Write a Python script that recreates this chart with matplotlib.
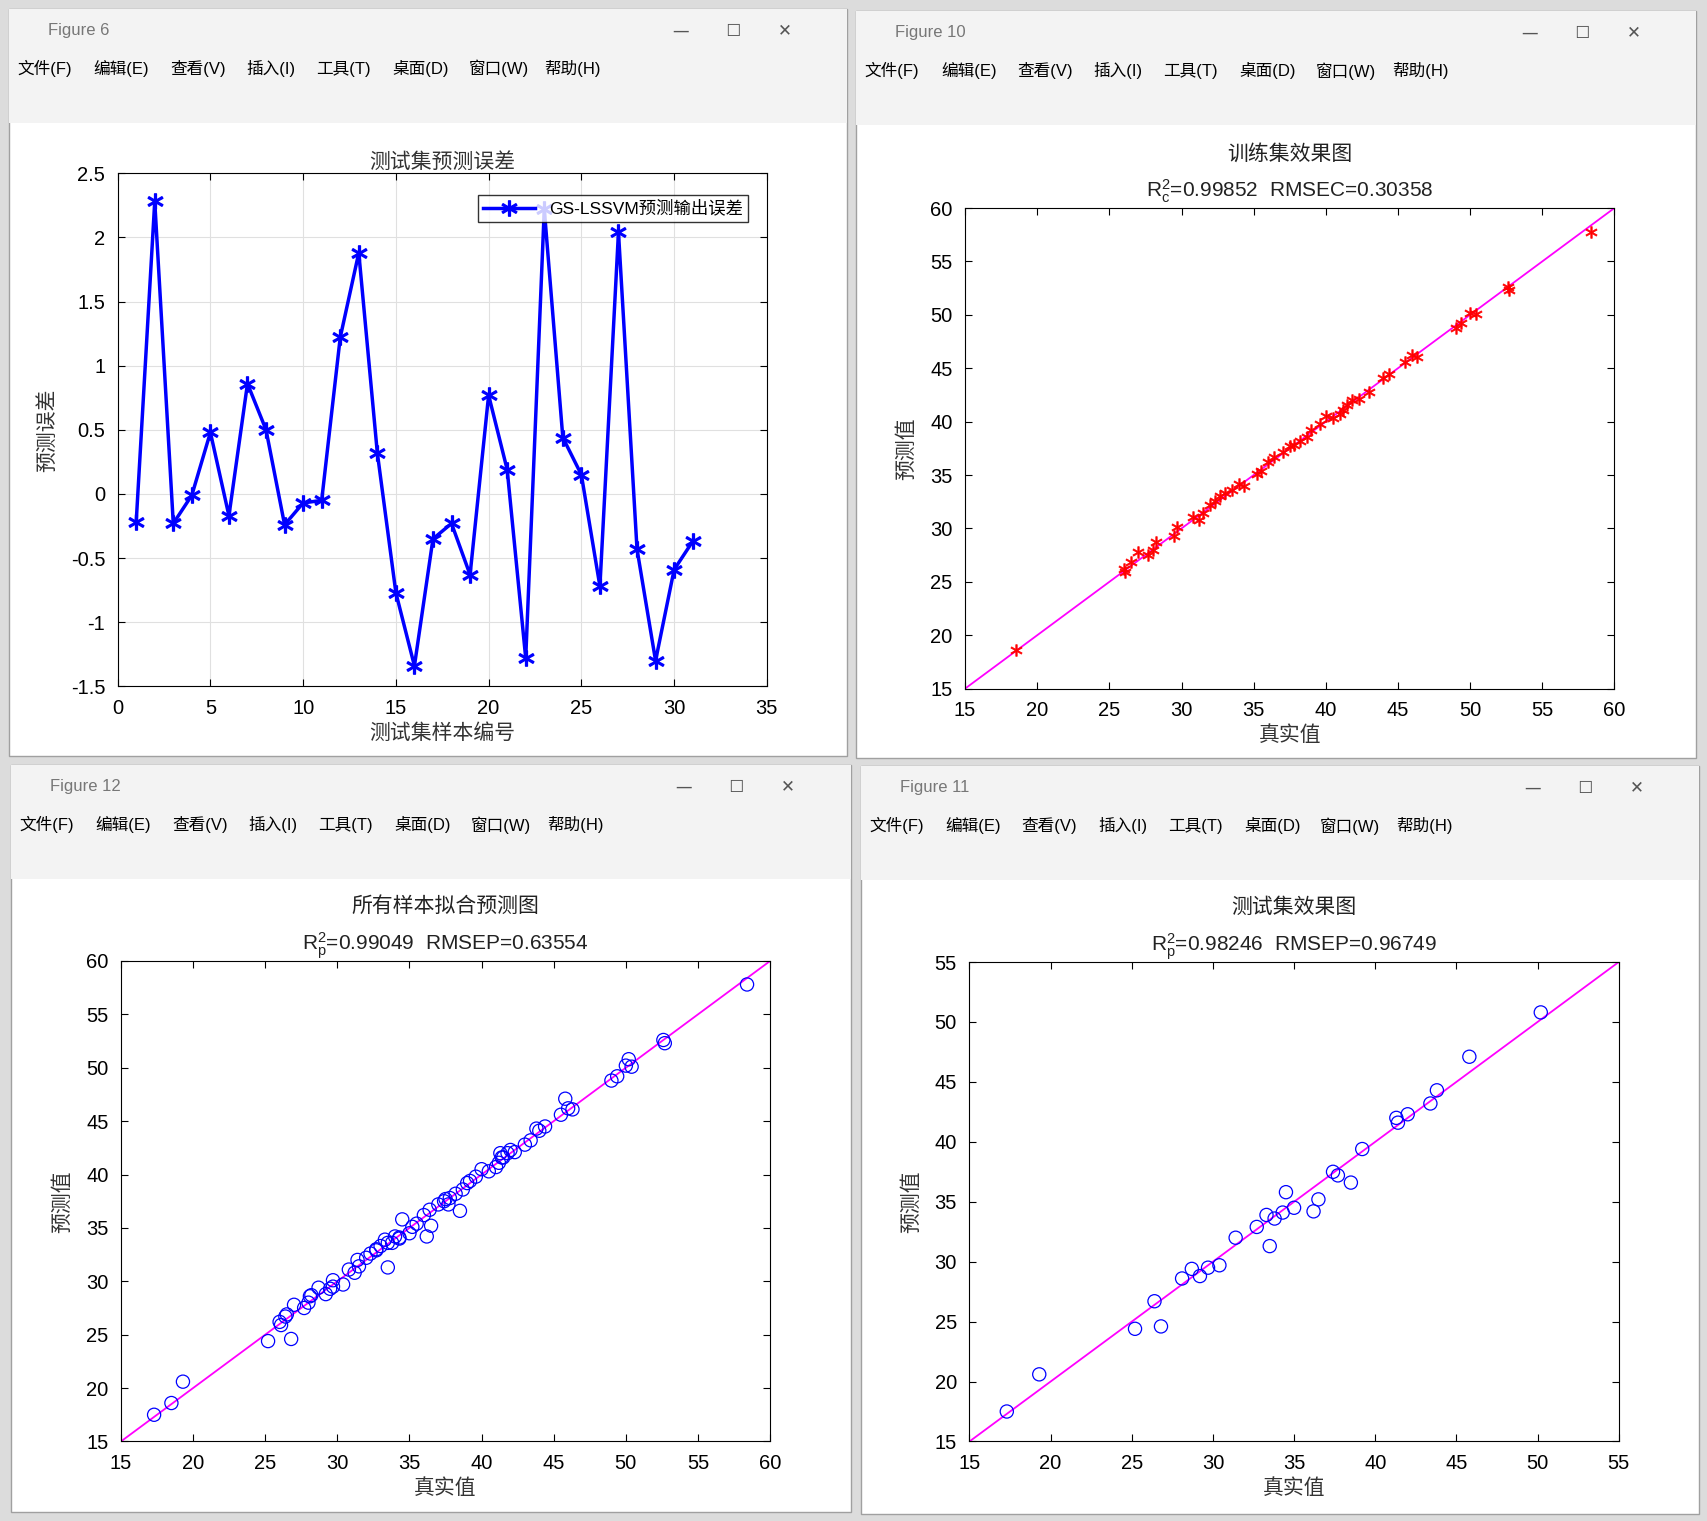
import numpy as np
import matplotlib
matplotlib.use("Agg")
import matplotlib.pyplot as plt
from matplotlib.patches import Rectangle

plt.rcParams['font.family'] = ['Liberation Sans', 'Noto Sans CJK SC', 'DejaVu Sans']

# ---- data ----
err_idx = np.arange(1, 32)
err_val = [-0.22, 2.28, -0.23, -0.01, 0.48, -0.17, 0.86, 0.50, -0.24, -0.07, -0.05,
           1.22, 1.88, 0.32, -0.77, -1.34, -0.35, -0.23, -0.63, 0.77, 0.19, -1.28,
           2.22, 0.44, 0.15, -0.72, 2.04, -0.43, -1.30, -0.59, -0.37]

test_true = [17.3, 19.3, 25.2, 26.4, 26.8, 28.1, 28.7, 29.2, 29.7, 30.4, 31.4, 32.7, 33.3,
             33.5, 33.8, 34.3, 34.5, 35.0, 36.2, 36.5, 37.4, 37.7, 38.5, 39.2, 41.3, 41.4,
             42.0, 43.4, 43.8, 45.8, 50.2]
test_pred = [17.5, 20.6, 24.4, 26.7, 24.6, 28.6, 29.4, 28.8, 29.5, 29.7, 32.0, 32.9, 33.9,
             31.3, 33.6, 34.1, 35.8, 34.5, 34.2, 35.2, 37.5, 37.2, 36.6, 39.4, 42.0, 41.6,
             42.3, 43.2, 44.3, 47.1, 50.8]

train_true = [18.5, 26.0, 26.1, 26.5, 27.0, 27.7, 28.0, 28.2, 29.5, 29.7, 30.8, 31.2, 31.5,
              32.0, 32.3, 32.7, 33.0, 33.5, 34.0, 34.3, 35.2, 35.5, 36.0, 36.4, 37.0, 37.5,
              37.8, 38.2, 38.7, 39.0, 39.6, 40.0, 40.5, 41.0, 41.2, 41.5, 41.8, 42.3, 43.0,
              44.0, 44.4, 45.5, 46.0, 46.3, 49.0, 49.4, 50.0, 50.4, 52.6, 52.7, 58.4]
train_pred = [18.6, 26.2, 25.9, 26.9, 27.8, 27.5, 28.0, 28.7, 29.3, 30.1, 31.1, 30.8, 31.4,
              32.2, 32.6, 33.0, 33.3, 33.6, 34.2, 34.0, 35.1, 35.4, 36.2, 36.7, 37.2, 37.7,
              37.8, 38.2, 38.6, 39.2, 39.8, 40.5, 40.3, 40.7, 41.1, 41.6, 42.0, 42.1, 42.8,
              44.1, 44.5, 45.6, 46.2, 46.1, 48.8, 49.2, 50.2, 50.1, 52.6, 52.3, 57.8]

all_true = train_true + test_true
all_pred = train_pred + test_pred

menu_items = ['文件(F)', '编辑(E)', '查看(V)', '插入(I)', '工具(T)', '桌面(D)', '窗口(W)', '帮助(H)']

# ---- layout in the reference's own pixel frame ----
W0, H0 = 1568, 1396
fig = plt.figure(figsize=(17.08, 15.21), dpi=100)
fig.patch.set_facecolor('#dcdcdc')


def frac_rect(x0, y0, x1, y1):
    return [x0 / W0, 1 - y1 / H0, (x1 - x0) / W0, (y1 - y0) / H0]


def window(x0, y0, x1, y1, name):
    fig.patches.append(Rectangle((x0 / W0, 1 - y1 / H0), (x1 - x0) / W0, (y1 - y0) / H0,
                                 transform=fig.transFigure, facecolor='white',
                                 edgecolor='#a0a0a0', lw=1, zorder=-2))
    fig.patches.append(Rectangle((x0 / W0, 1 - (y0 + 105) / H0), (x1 - x0) / W0, 105 / H0,
                                 transform=fig.transFigure, facecolor='#f3f3f3',
                                 edgecolor='none', zorder=-1))
    fig.text((x0 + 36) / W0, 1 - (y0 + 20) / H0, name, fontsize=12, color='#777777', va='center')
    fig.text((x1 - 160) / W0, 1 - (y0 + 20) / H0, '—       ☐       ✕', fontsize=12,
             color='#555555', va='center', family=['DejaVu Sans'])
    x = x0 + 8
    for m in menu_items:
        fig.text(x / W0, 1 - (y0 + 55) / H0, m, fontsize=12, va='center')
        x += 70 if m != '插入(I)' else 64


def style(ax):
    ax.tick_params(direction='in', top=True, right=True, labelsize=14.5, length=5, pad=9)
    for s in ax.spines.values():
        s.set_linewidth(0.8)


window(8, 8, 778, 694, 'Figure 6')
window(786, 10, 1557, 696, 'Figure 10')
window(10, 702, 781, 1388, 'Figure 12')
window(790, 703, 1560, 1390, 'Figure 11')

# Figure 6: error curve
ax1 = fig.add_axes(frac_rect(108, 159, 704, 630))
ax1.plot(err_idx, err_val, color='#0000ff', lw=2.5, marker='$*$', markersize=11,
         label='GS-LSSVM预测输出误差')
ax1.set_xlim(0, 35)
ax1.set_ylim(-1.5, 2.5)
ax1.set_xticks(np.arange(0, 36, 5))
ax1.set_yticks(np.arange(-1.5, 2.51, 0.5))
ax1.set_yticklabels(['-1.5', '-1', '-0.5', '0', '0.5', '1', '1.5', '2', '2.5'])
ax1.grid(True, color='#e0e0e0', lw=0.8)
ax1.set_title('测试集预测误差', fontsize=15, color='#333333', pad=4)
ax1.set_xlabel('测试集样本编号', fontsize=15, color='#333333', labelpad=4)
ax1.set_ylabel('预测误差', fontsize=15, color='#333333', labelpad=10)
ax1.legend(loc='upper right', fontsize=12.5, fancybox=False, edgecolor='black',
           handlelength=3, borderpad=0.3, bbox_to_anchor=(0.985, 0.975))
style(ax1)


def scatter_panel(rect, xs, ys, lim, ticks, title, sub, stat, marker, color):
    ax = fig.add_axes(frac_rect(*rect))
    ax.plot(lim, lim, color='#ff00ff', lw=1.3)
    if marker == 'o':
        ax.scatter(xs, ys, s=90, facecolors='none', edgecolors=color, lw=0.9, zorder=3)
    else:
        ax.scatter(xs, ys, s=70, marker='$*$', color=color, lw=0.5, zorder=3)
    ax.set_xlim(lim)
    ax.set_ylim(lim)
    ax.set_xticks(ticks)
    ax.set_yticks(ticks)
    ax.set_title(title + '\n' + r'$\mathregular{R_{' + sub + r'}^2}$' + stat,
                 fontsize=15, color='#222222', linespacing=1.7, pad=8)
    ax.set_xlabel('真实值', fontsize=15, color='#333333', labelpad=4)
    ax.set_ylabel('预测值', fontsize=15, color='#333333', labelpad=10)
    style(ax)
    return ax


scatter_panel((886, 191, 1482, 632), train_true, train_pred, (15, 60), np.arange(15, 61, 5),
              '训练集效果图', 'c', '=0.99852  RMSEC=0.30358', '*', '#ff0000')
scatter_panel((111, 882, 707, 1323), all_true, all_pred, (15, 60), np.arange(15, 61, 5),
              '所有样本拟合预测图', 'p', '=0.99049  RMSEP=0.63554', 'o', '#0000ff')
scatter_panel((890, 883, 1486, 1323), test_true, test_pred, (15, 55), np.arange(15, 56, 5),
              '测试集效果图', 'p', '=0.98246  RMSEP=0.96749', 'o', '#0000ff')

fig.savefig('out.png', dpi=100, facecolor=fig.get_facecolor())
